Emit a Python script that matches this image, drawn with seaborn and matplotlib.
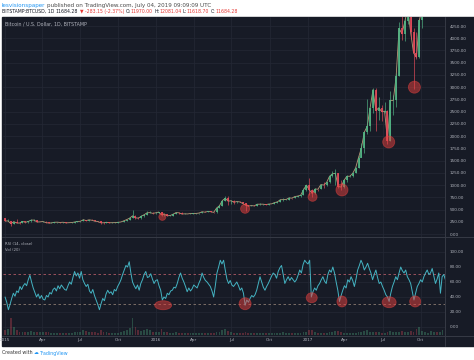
import numpy as np
import pandas as pd
import seaborn as sns
import matplotlib.pyplot as plt
import matplotlib.dates as mdates
from matplotlib.patches import Ellipse, Rectangle
from matplotlib.lines import Line2D

# weekly BITSTAMP:BTCUSD candles, weeks starting Mon 2014-12-29
first_open = 318
week_close = [
    265, 268, 210, 253, 226, 223, 258, 238, 256, 284, 285, 246, 248, 255, 236, 224, 226, 240, 242, 236,
    241, 228, 230, 234, 245, 257, 260, 292, 275, 290, 281, 261, 257, 230, 229, 240, 230, 231, 233, 239,
    246, 270, 295, 325, 372, 331, 324, 362, 394, 433, 437, 422, 433,
    449, 390, 403, 372, 378, 405, 438, 433, 409, 412, 410, 419, 420, 421, 429, 455, 446, 461, 455, 442,
    530, 578, 684, 730, 670, 680, 648, 663, 656, 624, 591, 570, 581, 574, 609, 609, 610, 601, 612, 616,
    642, 657, 700, 703, 705, 738, 733, 765, 775, 790, 900, 1000,
    900, 830, 920, 915, 1010, 1000, 1055, 1180, 1230, 1240, 970, 960, 1100, 1180, 1180, 1240, 1350, 1560,
    1760, 2080, 2200, 2580, 2950, 2520, 2580, 2500, 2510, 1910, 2730, 2730, 3230, 4200, 4090, 4350, 4600,
    4120, 3700, 3610, 4370, 4600, 5700, 5980, 6150, 7350, 6550, 8000, 8600,
]
week_high = [
    320, 300, 270, 255, 310, 245, 260, 250, 260, 300, 300, 290, 255, 258, 260, 238, 237, 243, 245, 245,
    245, 241, 233, 237, 255, 260, 270, 310, 295, 292, 298, 285, 272, 260, 236, 242, 248, 236, 236, 240,
    250, 272, 295, 335, 500, 385, 338, 380, 400, 470, 465, 455, 440,
    460, 455, 420, 397, 395, 410, 445, 443, 442, 424, 418, 421, 427, 425, 433, 455, 468, 463, 461, 457,
    530, 590, 705, 780, 770, 705, 705, 680, 680, 660, 627, 600, 590, 590, 615, 630, 612, 610, 615, 620,
    645, 660, 720, 745, 720, 750, 745, 775, 775, 795, 935, 1000,
    1150, 920, 930, 925, 1030, 1060, 1065, 1200, 1290, 1330, 1250, 1110, 1110, 1210, 1200, 1270, 1370, 1620,
    1850, 2080, 2760, 2580, 2980, 2980, 2790, 2630, 2700, 2540, 2920, 2840, 3280, 4330, 4480, 4400, 4980,
    4700, 4200, 4120, 4380, 4620, 5850, 6150, 6350, 7600, 7900, 8000, 8700,
]
week_low = [
    260, 262, 170, 205, 220, 212, 215, 232, 233, 254, 265, 245, 236, 240, 232, 215, 218, 220, 231, 232,
    232, 226, 222, 224, 230, 240, 248, 265, 270, 270, 278, 257, 250, 198, 200, 224, 228, 226, 228, 234,
    237, 245, 264, 285, 325, 300, 310, 315, 350, 390, 425, 410, 412,
    425, 360, 375, 365, 365, 370, 400, 410, 402, 400, 408, 406, 413, 415, 418, 430, 440, 440, 440, 435,
    437, 525, 570, 680, 590, 620, 610, 640, 645, 620, 480, 570, 565, 565, 565, 600, 600, 590, 598, 605,
    615, 630, 655, 680, 700, 705, 725, 728, 755, 765, 790, 880,
    800, 750, 815, 880, 910, 950, 990, 1050, 1160, 1000, 940, 890, 940, 1060, 1160, 1170, 1240, 1350,
    1570, 1650, 2040, 2100, 2480, 2100, 2330, 2300, 2480, 1840, 1910, 2430, 2600, 3220, 3960, 3950, 4300,
    3980, 2970, 3570, 3600, 4200, 4580, 5100, 5400, 6100, 5500, 6400, 7900,
]
# average daily volume, thousand BTC
week_volume = [
    8, 10, 30, 14, 9, 6, 6, 5, 5, 7, 6, 6, 5, 5, 5, 5, 4, 4, 4, 4, 4, 4, 4, 4, 5, 5, 6, 9, 7, 6,
    5, 5, 4, 9, 6, 5, 4, 4, 4, 4, 5, 7, 9, 12, 30, 14, 8, 7, 8, 11, 8, 6, 5,
    5, 10, 6, 5, 4, 4, 5, 4, 4, 3, 3, 3, 3, 3, 3, 4, 3, 3, 3, 3, 5, 6, 8, 10, 7, 5,
    4, 3, 3, 3, 6, 4, 3, 3, 3, 3, 3, 3, 3, 3, 3, 4, 4, 5, 4, 3, 3, 3, 3, 3, 5, 6,
    9, 8, 5, 4, 4, 4, 4, 5, 5, 7, 7, 5, 4, 3, 3, 3, 4, 6, 6, 7, 8, 6, 6, 6, 5, 4,
    4, 5, 7, 6, 5, 5, 7, 6, 6, 7, 5, 10, 14, 7, 5, 4, 7, 6, 5, 6, 8,
]

# RSI(14) read every 4 days from 2015-01-01
rsi_2015 = [
    40, 33, 23, 30, 38, 45, 41, 48, 46, 54, 50, 55, 58, 55, 63, 69, 60, 52, 46, 40,
    44, 38, 42, 37, 36, 42, 40, 46, 44, 50, 52, 48, 55, 51, 56, 53, 50, 49, 55, 60,
    57, 66, 74, 68, 72, 65, 74, 63, 58, 54, 57, 48, 45, 50, 42, 36, 30, 23, 31, 38,
    35, 44, 49, 45, 47, 43, 50, 48, 54, 58, 63, 70, 76, 82, 80, 87, 72, 60, 55, 51,
    56, 49, 58, 63, 70, 74, 66, 67, 71, 64, 58, 62,
]
rsi_2016 = [
    63, 55, 49, 36, 40, 38, 45, 43, 48, 49, 53, 52, 58, 66, 72, 65, 60, 54, 47, 52,
    48, 51, 56, 54, 52, 58, 63, 72, 66, 62, 60, 57, 54, 48, 40, 55, 72, 80, 89, 84,
    89, 76, 64, 58, 62, 56, 54, 57, 60, 55, 49, 52, 45, 29, 36, 33, 38, 42, 40, 43,
    49, 58, 67, 60, 53, 49, 54, 58, 63, 68, 72, 70, 65, 74, 79, 82, 70, 58, 63, 67,
    62, 66, 63, 60, 63, 69, 76, 72, 83, 89, 86,
]
rsi_2017 = [
    84, 89, 40, 47, 52, 49, 55, 58, 63, 67, 61, 58, 70, 76, 73, 80, 72, 60, 49, 34,
    42, 49, 55, 52, 63, 60, 67, 62, 54, 64, 76, 82, 89, 84, 76, 80, 85, 78, 72, 63,
    70, 76, 66, 58, 60, 54, 49, 43, 40, 34, 45, 54, 60, 67, 63, 72, 80, 75, 72, 76,
    67, 63, 58, 47, 36, 45, 54, 58, 63, 60, 67, 72, 76, 70, 72, 78, 68, 58, 64, 72,
    45, 67, 70, 63,
]

quarter_starts = ["2015-01-01", "2015-04-01", "2015-07-01", "2015-10-01", "2016-01-01", "2016-04-01",
                  "2016-07-01", "2016-10-01", "2017-01-01", "2017-04-01", "2017-07-01", "2017-10-01"]
quarter_labels = ["2015", "Apr", "Jul", "Oct", "2016", "Apr", "Jul", "Oct", "2017", "Apr", "Jul", "Oct"]
price_ticks = list(range(0, 4251, 250))
rsi_ticks = [0, 20, 40, 60, 80, 100]

# red circles drawn on the chart
circle_dates = ["2016-01-16", "2016-08-03", "2017-01-13", "2017-03-25", "2017-07-16", "2017-09-16"]
circle_prices = [350, 515, 760, 900, 1880, 3000]
circle_rsi_dates = ["2016-01-18", "2016-08-03", "2017-01-11", "2017-03-25", "2017-07-17", "2017-09-18"]
circle_rsi = [29, 31, 39, 34, 33, 34]

BG = "#171b26"
GRID = "#242835"
LINE = "#363a45"
TXT = "#b2b5be"
UP = "#53b987"
DOWN = "#eb4d5c"
RSI_C = "#44b3c2"
RED = "#e8413f"

sns.set_theme(style="dark")
plt.rcParams['font.family'] = ['DejaVu Sans']

W, H = 474, 360
fig = plt.figure(figsize=(W / 100, H / 100), dpi=100)
fig.patch.set_facecolor("white")


def px_box(x0, y0, x1, y1):
    return [x0 / W, 1 - y1 / H, (x1 - x0) / W, (y1 - y0) / H]


def fig_text(x, y, s, **kw):
    return fig.text(x / W, 1 - y / H, s, va="center", ha="left", **kw)


def text_run(x, y, parts, size, **kw):
    r = fig.canvas.get_renderer()
    space = 0.318 * size * 100 / 72
    for s, c in parts:
        t = fig_text(x, y, s.strip(), color=c, fontsize=size, **kw)
        x += t.get_window_extent(r).width
        if s.endswith(" "):
            x += space


# dark chart background
fig.add_artist(Rectangle((2 / W, 1 - 346 / H), 472 / W, 329 / H, transform=fig.transFigure,
                         color=BG, zorder=-1))

x_left = mdates.date2num(pd.Timestamp("2014-12-27"))
x_right = mdates.date2num(pd.Timestamp("2017-11-29"))
qticks = mdates.date2num(pd.to_datetime(quarter_starts))

# ---- price pane
ax1 = fig.add_axes(px_box(3, 17, 445, 237))
ax1.set_facecolor(BG)
weeks = pd.date_range("2014-12-29", periods=len(week_close), freq="7D")
centers = mdates.date2num(weeks + pd.Timedelta(days=3))
close = np.array(week_close)
opens = np.array([first_open] + week_close[:-1])
colors = np.where(close >= opens, UP, DOWN)

sns.lineplot(x=centers, y=close, ax=ax1, color="#b89a78", linewidth=0.6, zorder=2)
ax1.vlines(centers, week_low, week_high, colors=colors, linewidth=0.45, zorder=3)
ax1.vlines(centers, np.minimum(opens, close), np.maximum(opens, close), colors=colors,
           linewidth=1.2, zorder=3)

for d, p, size in zip(circle_dates, circle_prices, [7, 9, 9, 12, 12, 12]):
    ax1.add_patch(Ellipse((mdates.date2num(pd.Timestamp(d)), p), width=size * 2.42, height=size * 20.4,
                          facecolor=RED, alpha=0.5, edgecolor=RED, linewidth=0.6, zorder=4))

ax1.set_xlim(x_left, x_right)
ax1.set_ylim(-61, 4434)
ax1.set_xticks(qticks)
ax1.set_xticklabels([])
ax1.yaxis.tick_right()
ax1.set_yticks(price_ticks)
ax1.set_yticklabels([f"{v:.2f}" for v in price_ticks])
ax1.tick_params(axis="y", length=0, pad=3.5, labelsize=3, labelcolor=TXT)
ax1.tick_params(axis="x", length=0)
ax1.grid(True, color=GRID, linewidth=0.5)
ax1.set_xlabel("")
ax1.set_ylabel("")
for s in ax1.spines.values():
    s.set_visible(False)

# ---- RSI + volume pane
ax2 = fig.add_axes(px_box(3, 237, 445, 335))
ax2.set_facecolor(BG)
ax3 = ax2.twinx()

rsi = rsi_2015 + rsi_2016 + rsi_2017
rsi_dates = pd.date_range("2015-01-01", periods=len(rsi), freq="4D")
ax2.axhline(70, color="#b05a66", linewidth=0.6, linestyle=(0, (3, 3)), zorder=2)
ax2.axhline(30, color="#8a7a70", linewidth=0.6, linestyle=(0, (3, 3)), zorder=2)
sns.lineplot(x=mdates.date2num(rsi_dates), y=rsi, ax=ax2, color=RSI_C, linewidth=0.7, zorder=3)

for d, v, (w, h) in zip(circle_rsi_dates, circle_rsi, [(17, 9), (12, 12), (11, 10), (10, 11), (14, 11), (11, 11)]):
    ax2.add_patch(Ellipse((mdates.date2num(pd.Timestamp(d)), v), width=w * 2.42, height=h * 1.33,
                          facecolor=RED, alpha=0.5, edgecolor=RED, linewidth=0.6, zorder=4))

ax2.set_xlim(x_left, x_right)
ax2.set_ylim(-10.7, 120)
ax2.yaxis.tick_right()
ax2.yaxis.set_label_position("right")
ax2.set_yticks(rsi_ticks)
ax2.set_yticklabels([f"{v:.2f}" for v in rsi_ticks])
ax2.set_xticks(qticks)
ax2.set_xticklabels(quarter_labels)
ax2.tick_params(axis="y", which="both", left=False, labelleft=False, right=False, labelright=True,
                length=0, pad=3.5, labelsize=3, labelcolor=TXT)
ax2.tick_params(axis="x", length=0, pad=2.2, labelsize=3, labelcolor=TXT)
ax2.grid(True, color=GRID, linewidth=0.5)
ax2.set_xlabel("")
ax2.set_ylabel("")
for s in ax2.spines.values():
    s.set_visible(False)

ax3.bar(centers, week_volume, width=4.5, color=colors, alpha=0.3, linewidth=0)
ax3.set_ylim(0, 170)
ax3.set_yticks([])
ax3.tick_params(axis="y", left=False, right=False, labelleft=False, labelright=False)
ax3.set_xlim(x_left, x_right)
ax3.grid(False)
for s in ax3.spines.values():
    s.set_visible(False)

# pane borders
for (x0, y0, x1, y1) in [(445, 17, 445, 346), (2, 237, 474, 237), (2, 335.5, 474, 335.5)]:
    fig.add_artist(Line2D([x0 / W, x1 / W], [1 - y0 / H, 1 - y1 / H], color=LINE, linewidth=0.7,
                          transform=fig.transFigure))

# ---- texts
text_run(2, 5, [("lesvisionspaper ", "#2196f3"),
                ("published on TradingView.com, July 04, 2019 09:09:09 UTC", "#4a4a4a")], 4.1)
dark = "#131722"
red = "#e53935"
text_run(2, 11.5, [("BITSTAMP:BTCUSD, 1D ", dark), ("11684.28 ", dark), ("▼ -283.15 (-2.37%) ", red),
                   ("O:", dark), ("11970.00 ", red), ("H:", dark), ("12081.04 ", red),
                   ("L:", dark), ("11618.70 ", red), ("C:", dark), ("11684.28", red)], 3.35)
fig_text(5, 24, "Bitcoin / U.S. Dollar, 1D, BITSTAMP", color=TXT, fontsize=3.4)
fig_text(5, 244, "RSI (14, close)", color=TXT, fontsize=2.7)
fig_text(5, 250, "Vol (20)", color=TXT, fontsize=2.7)
text_run(2, 353, [("Created with ", "#333333"), ("☁ ", "#2196f3"), ("TradingView", "#2196f3")], 3.4)

fig.savefig("out.png", dpi=100, facecolor="white")
